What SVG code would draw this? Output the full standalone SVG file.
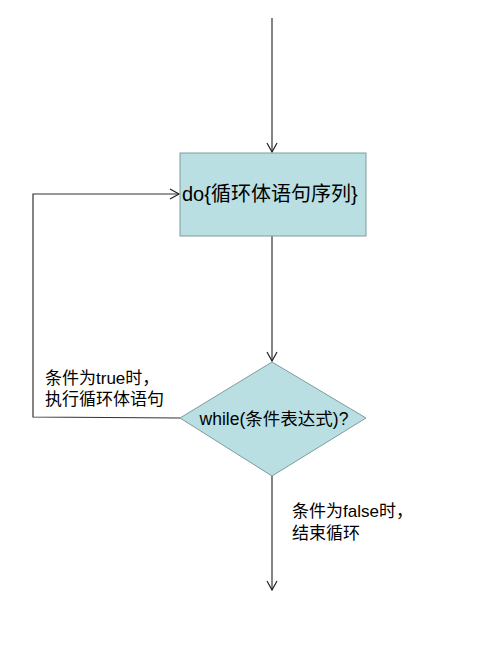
<svg xmlns="http://www.w3.org/2000/svg" width="498" height="646" viewBox="0 0 498 646">
<style>
.shape{fill:#b9dfe3;stroke:#7f9b9e;stroke-width:1}
.edge{fill:none;stroke:#333;stroke-width:1.2}
.t{font-family:"Liberation Sans","Noto Sans CJK SC",sans-serif;fill:#000}
.lbl{font-family:"Liberation Sans","Noto Sans CJK SC",sans-serif;font-size:17px;fill:#000}
</style>
<defs>
<marker id="arr" markerWidth="12" markerHeight="12" refX="10" refY="6" orient="auto" markerUnits="userSpaceOnUse">
<path d="M1,1 L10,6 L1,11" fill="none" stroke="#222" stroke-width="1.2"/>
</marker>
</defs>
<rect width="498" height="646" fill="#fff"/>
<g id="connectors">
<line class="edge" x1="272" y1="18" x2="272" y2="152" marker-end="url(#arr)"/>
<line class="edge" x1="272" y1="236" x2="272" y2="361" marker-end="url(#arr)"/>
<polyline class="edge" points="180,418 33,417 33,194 179,194" marker-end="url(#arr)"/>
<line class="edge" x1="272" y1="476" x2="272" y2="590" marker-end="url(#arr)"/>
</g>
<g id="body">
<rect class="shape" x="180" y="153" width="186" height="83"/>
<text class="t" x="182" y="201" font-size="20">do{循环体语句序列}</text>
</g>
<g id="cond">
<polygon class="shape" points="272,362 366,418 272,476 180,418"/>
<text class="t" x="274" y="425" font-size="17.5" text-anchor="middle">while(条件表达式)?</text>
</g>
<g id="label-true">
<text class="lbl" x="45" y="384">条件为true时，</text>
<text class="lbl" x="45" y="405">执行循环体语句</text>
</g>
<g id="label-false">
<text class="lbl" x="292" y="517">条件为false时，</text>
<text class="lbl" x="292" y="539">结束循环</text>
</g>
</svg>
